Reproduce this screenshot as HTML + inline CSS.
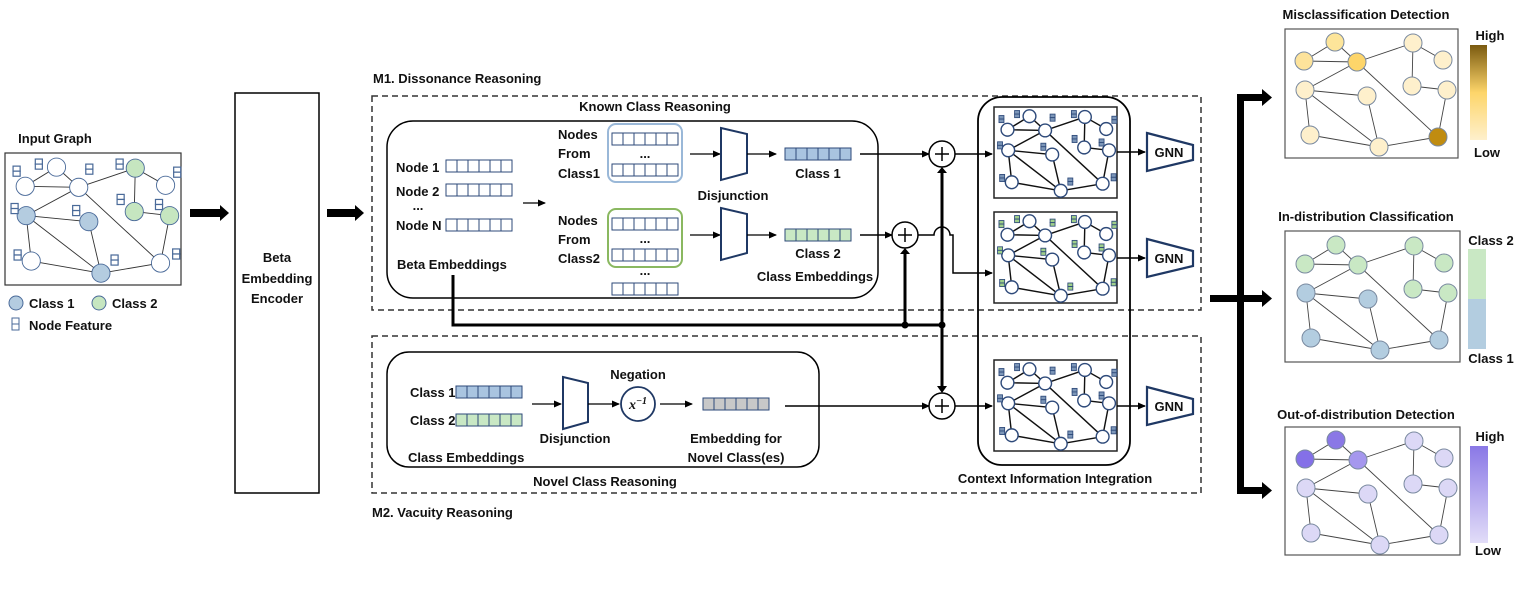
<!DOCTYPE html>
<html><head><meta charset="utf-8"><style>
html,body{margin:0;padding:0;background:#fff}
svg{display:block}
text{font-family:"Liberation Sans",sans-serif;font-weight:bold;fill:#111;font-size:13px}
.c{text-anchor:middle}
.ed{fill:none;stroke:var(--ec);stroke-width:var(--ew)}
.nd circle{stroke:var(--nc);stroke-width:var(--nw)}
</style></head><body>
<svg width="1521" height="608" viewBox="0 0 1521 608" xmlns="http://www.w3.org/2000/svg">
<defs>
<marker id="ar" markerWidth="8" markerHeight="8" refX="7" refY="4" orient="auto" markerUnits="userSpaceOnUse"><path d="M0,0.5 L8,4 L0,7.5 z" fill="#000"/></marker>
<path id="edges" class="ed" d="M50,13L19,32M19,32L72,33M50,13L72,33M72,33L128,14M128,14L127,57M128,14L158,31M127,57L162,61M72,33L20,61M72,33L153,108M20,61L82,67M20,61L25,106M20,61L94,118M82,67L94,118M25,106L94,118M94,118L153,108M153,108L162,61"/>
<g id="nodes" class="nd">
<circle cx="50" cy="13" r="9" style="fill:var(--a)"/>
<circle cx="19" cy="32" r="9" style="fill:var(--b)"/>
<circle cx="72" cy="33" r="9" style="fill:var(--cc)"/>
<circle cx="128" cy="14" r="9" style="fill:var(--d)"/>
<circle cx="158" cy="31" r="9" style="fill:var(--e)"/>
<circle cx="20" cy="61" r="9" style="fill:var(--f)"/>
<circle cx="82" cy="67" r="9" style="fill:var(--g)"/>
<circle cx="127" cy="57" r="9" style="fill:var(--h)"/>
<circle cx="162" cy="61" r="9" style="fill:var(--i)"/>
<circle cx="25" cy="106" r="9" style="fill:var(--j)"/>
<circle cx="94" cy="118" r="9" style="fill:var(--k)"/>
<circle cx="153" cy="108" r="9" style="fill:var(--l)"/>
</g>
<g id="feat" style="stroke:var(--fc);stroke-width:1.2;fill:var(--ff)">
<rect x="7" y="12" width="7" height="5"/><rect x="7" y="17" width="7" height="5"/>
<rect x="29" y="5" width="7" height="5"/><rect x="29" y="10" width="7" height="5"/>
<rect x="79" y="10" width="7" height="5"/><rect x="79" y="15" width="7" height="5"/>
<rect x="109" y="5" width="7" height="5"/><rect x="109" y="10" width="7" height="5"/>
<rect x="166" y="13" width="7" height="5"/><rect x="166" y="18" width="7" height="5"/>
<rect x="110" y="40" width="7" height="5"/><rect x="110" y="45" width="7" height="5"/>
<rect x="148" y="45" width="7" height="5"/><rect x="148" y="50" width="7" height="5"/>
<rect x="5" y="49" width="7" height="5"/><rect x="5" y="54" width="7" height="5"/>
<rect x="66" y="51" width="7" height="5"/><rect x="66" y="56" width="7" height="5"/>
<rect x="8" y="95" width="7" height="5"/><rect x="8" y="100" width="7" height="5"/>
<rect x="104" y="100" width="7" height="5"/><rect x="104" y="105" width="7" height="5"/>
<rect x="165" y="94" width="7" height="5"/><rect x="165" y="99" width="7" height="5"/>
</g>
<g id="emb" style="stroke:#2e4a7a;stroke-width:1;fill:var(--ef)">
<rect x="0" y="0" width="11" height="12"/><rect x="11" y="0" width="11" height="12"/><rect x="22" y="0" width="11" height="12"/><rect x="33" y="0" width="11" height="12"/><rect x="44" y="0" width="11" height="12"/><rect x="55" y="0" width="11" height="12"/>
</g>
<linearGradient id="gy" x1="0" y1="0" x2="0" y2="1"><stop offset="0" stop-color="#7a5a10"/><stop offset="0.5" stop-color="#fdd56a"/><stop offset="1" stop-color="#fef0cc"/></linearGradient>
<linearGradient id="gp" x1="0" y1="0" x2="0" y2="1"><stop offset="0" stop-color="#8a78e6"/><stop offset="1" stop-color="#e2ddf8"/></linearGradient>
</defs>

<!-- Input graph -->
<text x="55" y="143" class="c">Input Graph</text>
<rect x="5" y="153" width="176" height="132" fill="#fff" stroke="#333" stroke-width="1.2"/>
<g transform="translate(6,154) scale(1.01)" style="--ec:#333;--ew:0.9;--nc:#4a6a99;--nw:0.9;--a:#fff;--b:#fff;--cc:#fff;--d:#c6e6c0;--e:#fff;--f:#b4cce0;--g:#b4cce0;--h:#c6e6c0;--i:#c6e6c0;--j:#fff;--k:#b4cce0;--l:#fff;--fc:#4a6a99;--ff:#fff">
<use href="#edges"/><use href="#nodes"/><use href="#feat"/></g>
<circle cx="16" cy="303" r="7" fill="#b4cce0" stroke="#4a6a99"/>
<text x="29" y="308">Class 1</text>
<circle cx="99" cy="303" r="7" fill="#c6e6c0" stroke="#4a6a99"/>
<text x="112" y="308">Class 2</text>
<rect x="12" y="318" width="7" height="6" fill="#fff" stroke="#4a6a99"/><rect x="12" y="324" width="7" height="6" fill="#fff" stroke="#4a6a99"/>
<text x="29" y="330">Node Feature</text>

<polygon points="190,209 220,209 220,205 229,213 220,221 220,217 190,217" fill="#000"/>
<polygon points="327,209 355,209 355,205 364,213 355,221 355,217 327,217" fill="#000"/>

<rect x="235" y="93" width="84" height="400" fill="#fff" stroke="#000" stroke-width="1.5"/>
<text x="277" y="262" class="c">Beta</text>
<text x="277" y="283" class="c">Embedding</text>
<text x="277" y="303" class="c">Encoder</text>

<text x="373" y="83">M1. Dissonance Reasoning</text>
<rect x="372" y="96" width="829" height="214" fill="none" stroke="#333" stroke-width="1.5" stroke-dasharray="6,4"/>
<rect x="372" y="336" width="829" height="157" fill="none" stroke="#333" stroke-width="1.5" stroke-dasharray="6,4"/>
<text x="372" y="517">M2. Vacuity Reasoning</text>

<text x="655" y="111" class="c">Known Class Reasoning</text>
<rect x="387" y="121" width="491" height="177" rx="26" fill="none" stroke="#000" stroke-width="1.5"/>
<text x="396" y="172">Node 1</text><use href="#emb" x="446" y="160" style="--ef:#fff"/>
<text x="396" y="196">Node 2</text><use href="#emb" x="446" y="184" style="--ef:#fff"/>
<text x="418" y="210" class="c">...</text>
<text x="396" y="230">Node N</text><use href="#emb" x="446" y="219" style="--ef:#fff"/>
<text x="397" y="269">Beta Embeddings</text>
<line x1="523" y1="203" x2="545" y2="203" stroke="#000" stroke-width="1.3" marker-end="url(#ar)"/>

<text x="558" y="139">Nodes</text><text x="558" y="158">From</text><text x="558" y="178">Class1</text>
<rect x="608" y="124" width="74" height="58" rx="8" fill="none" stroke="#9ab8d8" stroke-width="2"/>
<use href="#emb" x="612" y="133" style="--ef:#fff"/>
<text x="645" y="158" class="c">...</text>
<use href="#emb" x="612" y="164" style="--ef:#fff"/>
<text x="558" y="225">Nodes</text><text x="558" y="244">From</text><text x="558" y="263">Class2</text>
<rect x="608" y="209" width="74" height="58" rx="8" fill="none" stroke="#8ab860" stroke-width="2"/>
<use href="#emb" x="612" y="218" style="--ef:#fff"/>
<text x="645" y="243" class="c">...</text>
<use href="#emb" x="612" y="249" style="--ef:#fff"/>
<text x="645" y="275" class="c">...</text>
<use href="#emb" x="612" y="283" style="--ef:#fff"/>

<line x1="690" y1="154" x2="720" y2="154" stroke="#000" stroke-width="1.3" marker-end="url(#ar)"/>
<line x1="690" y1="235" x2="720" y2="235" stroke="#000" stroke-width="1.3" marker-end="url(#ar)"/>
<polygon points="721,128 747,134 747,173 721,180" fill="#fff" stroke="#1f3864" stroke-width="2"/>
<polygon points="721,208 747,214 747,253 721,260" fill="#fff" stroke="#1f3864" stroke-width="2"/>
<text x="733" y="200" class="c">Disjunction</text>
<line x1="747" y1="154" x2="776" y2="154" stroke="#000" stroke-width="1.3" marker-end="url(#ar)"/>
<line x1="747" y1="235" x2="776" y2="235" stroke="#000" stroke-width="1.3" marker-end="url(#ar)"/>
<use href="#emb" x="785" y="148" style="--ef:#a9c4e0"/>
<text x="818" y="178" class="c">Class 1</text>
<use href="#emb" x="785" y="229" style="--ef:#c9e8c4"/>
<text x="818" y="258" class="c">Class 2</text>
<text x="815" y="281" class="c">Class Embeddings</text>

<g fill="none" stroke="#000" stroke-width="1.5">
<line x1="860" y1="154" x2="929" y2="154" marker-end="url(#ar)"/>
<line x1="860" y1="235" x2="892" y2="235" marker-end="url(#ar)"/>
<path d="M918,235 H934 A8,8 0 0 1 950,235 H953 V273 H992" marker-end="url(#ar)"/>
<line x1="955" y1="154" x2="992" y2="154" marker-end="url(#ar)"/>
<line x1="955" y1="406" x2="992" y2="406" marker-end="url(#ar)"/>
<line x1="785" y1="406" x2="929" y2="406" marker-end="url(#ar)"/>
</g>
<g fill="none" stroke="#000" stroke-width="3">
<path d="M453,275 V325 H942"/>
<line x1="905" y1="325" x2="905" y2="251"/>
<line x1="942" y1="325" x2="942" y2="170"/>
<line x1="942" y1="325" x2="942" y2="389"/>
</g>
<polygon points="900,254 905,248 910,254" fill="#000"/>
<polygon points="937,173 942,167 947,173" fill="#000"/>
<polygon points="937,386 942,393 947,386" fill="#000"/>
<circle cx="905" cy="325" r="3.5" fill="#000"/><circle cx="942" cy="325" r="3.5" fill="#000"/>
<g fill="#fff" stroke="#000" stroke-width="1.5">
<circle cx="942" cy="154" r="13"/><circle cx="905" cy="235" r="13"/><circle cx="942" cy="406" r="13"/>
</g>
<path d="M935,154H949M942,147V161M898,235H912M905,228V242M935,406H949M942,399V413" stroke="#000" stroke-width="1.5"/>

<rect x="978" y="97" width="152" height="368" rx="24" fill="none" stroke="#000" stroke-width="1.8"/>
<g style="--ec:#111;--ew:2;--nc:#2e4a7a;--nw:2;--a:#fff;--b:#fff;--cc:#fff;--d:#fff;--e:#fff;--f:#fff;--g:#fff;--h:#fff;--i:#fff;--j:#fff;--k:#fff;--l:#fff;--fc:#2e4a7a">
<rect x="994" y="107" width="123" height="91" fill="#fff" stroke="#222" stroke-width="1.5"/>
<g transform="translate(994,107) scale(0.71)" style="--ff:#7c96b8"><use href="#edges"/><use href="#nodes"/><use href="#feat"/></g>
<rect x="994" y="212" width="123" height="91" fill="#fff" stroke="#222" stroke-width="1.5"/>
<g transform="translate(994,212) scale(0.71)" style="--ff:#9fcf8a"><use href="#edges"/><use href="#nodes"/><use href="#feat"/></g>
<rect x="994" y="360" width="123" height="91" fill="#fff" stroke="#222" stroke-width="1.5"/>
<g transform="translate(994,360) scale(0.71)" style="--ff:#7c96b8"><use href="#edges"/><use href="#nodes"/><use href="#feat"/></g>
</g>
<text x="1055" y="483" class="c">Context Information Integration</text>
<g stroke="#000" stroke-width="1.5">
<line x1="1117" y1="152" x2="1145" y2="152" marker-end="url(#ar)"/>
<line x1="1117" y1="258" x2="1145" y2="258" marker-end="url(#ar)"/>
<line x1="1117" y1="406" x2="1145" y2="406" marker-end="url(#ar)"/>
</g>
<g fill="#fff" stroke="#1f3864" stroke-width="2.2">
<polygon points="1147,133 1193,145 1193,160 1147,171"/>
<polygon points="1147,239 1193,251 1193,266 1147,277"/>
<polygon points="1147,387 1193,399 1193,414 1147,425"/>
</g>
<text x="1169" y="157" class="c">GNN</text>
<text x="1169" y="263" class="c">GNN</text>
<text x="1169" y="411" class="c">GNN</text>

<rect x="387" y="352" width="432" height="115" rx="22" fill="none" stroke="#000" stroke-width="1.5"/>
<text x="410" y="397">Class 1</text><use href="#emb" x="456" y="386" style="--ef:#a9c4e0"/>
<text x="410" y="425">Class 2</text><use href="#emb" x="456" y="414" style="--ef:#c9e8c4"/>
<text x="408" y="462">Class Embeddings</text>
<line x1="532" y1="404" x2="561" y2="404" stroke="#000" stroke-width="1.3" marker-end="url(#ar)"/>
<polygon points="563,377 588,383 588,422 563,429" fill="#fff" stroke="#1f3864" stroke-width="2"/>
<text x="575" y="443" class="c">Disjunction</text>
<line x1="588" y1="404" x2="619" y2="404" stroke="#000" stroke-width="1.3" marker-end="url(#ar)"/>
<circle cx="638" cy="404" r="17" fill="#fff" stroke="#1f3864" stroke-width="1.8"/>
<text x="638" y="409" class="c" style="font-family:'Liberation Serif',serif;font-style:italic;font-size:14px">x<tspan dy="-5" font-size="10">−1</tspan></text>
<text x="638" y="379" class="c">Negation</text>
<line x1="660" y1="404" x2="692" y2="404" stroke="#000" stroke-width="1.3" marker-end="url(#ar)"/>
<use href="#emb" x="703" y="398" style="--ef:#c8c8c8"/>
<text x="736" y="443" class="c">Embedding for</text>
<text x="736" y="462" class="c">Novel Class(es)</text>
<text x="605" y="486" class="c">Novel Class Reasoning</text>

<rect x="1210" y="295" width="31" height="7" fill="#000"/>
<rect x="1237" y="94" width="7" height="400" fill="#000"/>
<polygon points="1240,94 1262,94 1262,89 1272,97.5 1262,106 1262,101 1240,101" fill="#000"/>
<polygon points="1240,295 1262,295 1262,290 1272,298.5 1262,307 1262,302 1240,302" fill="#000"/>
<polygon points="1240,487 1262,487 1262,482 1272,490.5 1262,499 1262,494 1240,494" fill="#000"/>

<text x="1366" y="19" class="c">Misclassification Detection</text>
<rect x="1285" y="29" width="173" height="129" fill="#fff" stroke="#555" stroke-width="1.2"/>
<g transform="translate(1285,29)" style="--ec:#444;--ew:0.9;--nc:#7a8aa0;--nw:1;--a:#fde59a;--b:#fde39b;--cc:#fdd56a;--d:#fef0cc;--e:#fef0cc;--f:#fef0cc;--g:#fef0cc;--h:#fef0cc;--i:#fef0cc;--j:#fef0cc;--k:#fef0cc;--l:#c08c10"><use href="#edges"/><use href="#nodes"/></g>
<text x="1490" y="40" class="c">High</text>
<rect x="1470" y="45" width="17" height="95" fill="url(#gy)"/>
<text x="1487" y="157" class="c">Low</text>

<text x="1366" y="221" class="c">In-distribution Classification</text>
<rect x="1285" y="231" width="175" height="131" fill="#fff" stroke="#555" stroke-width="1.2"/>
<g transform="translate(1286,232)" style="--ec:#444;--ew:0.9;--nc:#7a8aa0;--nw:1;--a:#c9e8c4;--b:#c9e8c4;--cc:#c9e8c4;--d:#c9e8c4;--e:#c9e8c4;--f:#b3cde0;--g:#b3cde0;--h:#c9e8c4;--i:#c9e8c4;--j:#b3cde0;--k:#b3cde0;--l:#b3cde0"><use href="#edges"/><use href="#nodes"/></g>
<text x="1491" y="245" class="c">Class 2</text>
<rect x="1468" y="249" width="18" height="50" fill="#c9e8c4"/>
<rect x="1468" y="299" width="18" height="50" fill="#b3cde0"/>
<text x="1491" y="363" class="c">Class 1</text>

<text x="1366" y="419" class="c">Out-of-distribution Detection</text>
<rect x="1285" y="427" width="175" height="128" fill="#fff" stroke="#555" stroke-width="1.2"/>
<g transform="translate(1286,427)" style="--ec:#444;--ew:0.9;--nc:#7a8aa0;--nw:1;--a:#8a78e6;--b:#8470e8;--cc:#a597ee;--d:#dcd8f6;--e:#dcd8f6;--f:#dcd8f6;--g:#dcd8f6;--h:#dcd8f6;--i:#dcd8f6;--j:#dcd8f6;--k:#dcd8f6;--l:#dcd8f6"><use href="#edges"/><use href="#nodes"/></g>
<text x="1490" y="441" class="c">High</text>
<rect x="1470" y="446" width="18" height="97" fill="url(#gp)"/>
<text x="1488" y="555" class="c">Low</text>
</svg>
</body></html>
